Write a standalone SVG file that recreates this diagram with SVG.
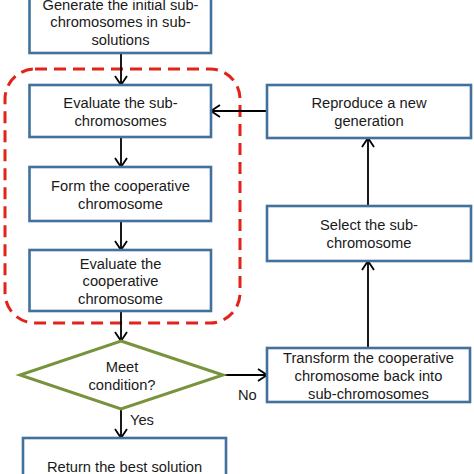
<svg xmlns="http://www.w3.org/2000/svg" width="474" height="474" viewBox="0 0 474 474">
<style>
.box{fill:#fff;stroke:#41719C;stroke-width:2.6}
.dia{fill:#fff;stroke:#77933C;stroke-width:3}
.t{font-family:"Liberation Sans",Arial,sans-serif;font-size:14.7px;fill:#1a1a1a;text-anchor:middle}
.lbl{font-family:"Liberation Sans",Arial,sans-serif;font-size:14.7px;fill:#1a1a1a}
.c{fill:none;stroke:#000;stroke-width:1.8;marker-end:url(#ah)}
.dash{fill:none;stroke:#E2231A;stroke-width:3;stroke-dasharray:12 7}
</style>
<defs>
<marker id="ah" markerUnits="userSpaceOnUse" viewBox="0 0 11 14" refX="10" refY="7" markerWidth="11" markerHeight="14" orient="auto">
<path d="M1,1 L10,7 L1,13" fill="none" stroke="#000" stroke-width="1.8"/>
</marker>
</defs>
<rect width="474" height="474" fill="#fff"/>
<rect class="dash" x="5" y="69" width="235" height="254" rx="30" ry="30"/>
<g id="connectors">
<path class="c" d="M121,53 L121,85"/>
<path class="c" d="M121,137 L121,167"/>
<path class="c" d="M121,221 L121,250"/>
<path class="c" d="M121,311 L121,341"/>
<path class="c" d="M121,409 L121,438"/>
<path class="c" d="M223,375 L267,375"/>
<path class="c" d="M368,348 L368,261"/>
<path class="c" d="M368,206 L368,138"/>
<path class="c" d="M267,111 L211,111"/>
<text class="lbl" x="130" y="425">Yes</text>
<text class="lbl" x="238" y="400">No</text>
</g>
<g id="generate">
<rect class="box" x="29.5" y="-10" width="181.5" height="63"/>
<text class="t" x="120.5" y="9.5">Generate the initial sub-</text>
<text class="t" x="120.5" y="27">chromosomes in sub-</text>
<text class="t" x="120.5" y="44.5">solutions</text>
</g>
<g id="evaluate-sub">
<rect class="box" x="29.5" y="85" width="181.5" height="52"/>
<text class="t" x="120.5" y="108">Evaluate the sub-</text>
<text class="t" x="120.5" y="126">chromosomes</text>
</g>
<g id="form">
<rect class="box" x="29.5" y="167" width="181.5" height="54"/>
<text class="t" x="120.5" y="191">Form the cooperative</text>
<text class="t" x="120.5" y="208.5">chromosome</text>
</g>
<g id="evaluate-coop">
<rect class="box" x="29.5" y="250" width="181.5" height="61"/>
<text class="t" x="120.5" y="268.5">Evaluate the</text>
<text class="t" x="120.5" y="286">cooperative</text>
<text class="t" x="120.5" y="303.5">chromosome</text>
</g>
<g id="condition">
<polygon class="dia" points="121,341 223,375 121,409 20,375"/>
<text class="t" x="122" y="372">Meet</text>
<text class="t" x="122" y="390">condition?</text>
</g>
<g id="return">
<rect class="box" x="23" y="438" width="203" height="50"/>
<text class="t" x="124.5" y="472">Return the best solution</text>
</g>
<g id="transform">
<rect class="box" x="267" y="348" width="203" height="54"/>
<text class="t" x="368.5" y="363">Transform the cooperative</text>
<text class="t" x="368.5" y="381">chromosome back into</text>
<text class="t" x="368.5" y="399">sub-chromosomes</text>
</g>
<g id="select">
<rect class="box" x="267" y="206" width="204" height="55"/>
<text class="t" x="369" y="230">Select the sub-</text>
<text class="t" x="369" y="248">chromosome</text>
</g>
<g id="reproduce">
<rect class="box" x="267" y="85" width="204" height="53"/>
<text class="t" x="369" y="108">Reproduce a new</text>
<text class="t" x="369" y="126">generation</text>
</g>
</svg>
